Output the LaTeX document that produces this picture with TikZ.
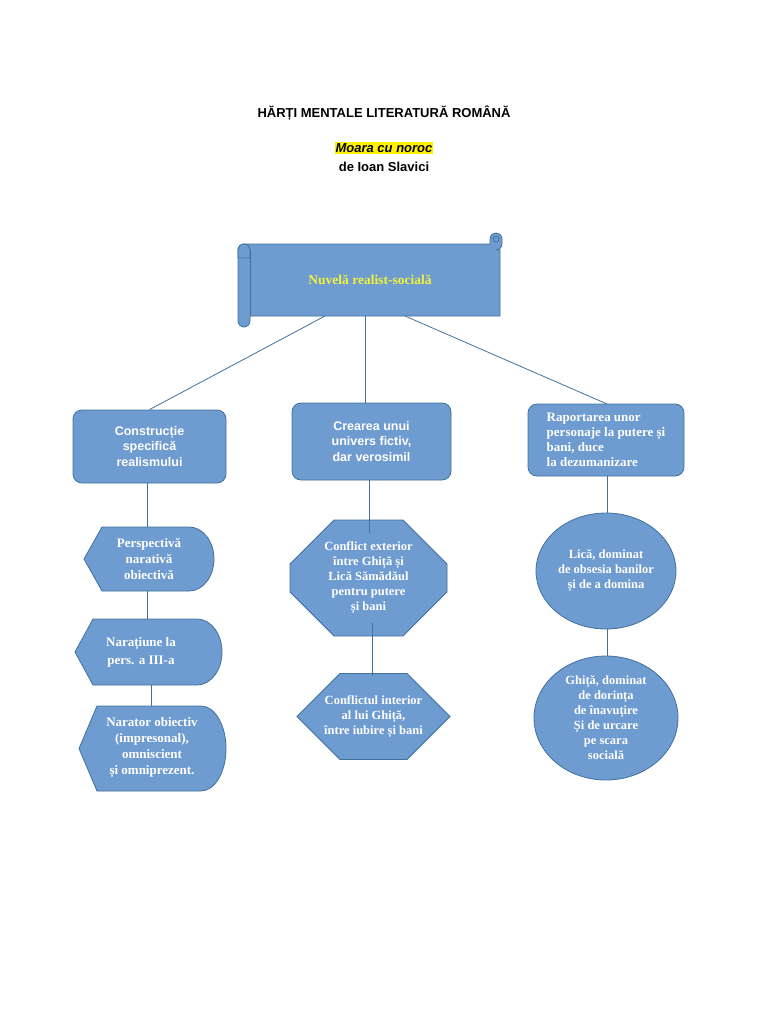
\documentclass[tikz,border=0pt]{standalone}
\usepackage{fontspec}
\setmainfont{Liberation Serif}
\newfontfamily\sansf{Liberation Sans}
\usetikzlibrary{shapes.misc,shapes.geometric}
\definecolor{fillb}{HTML}{6E9BD0}
\definecolor{edgeb}{HTML}{41719C}
\definecolor{ytext}{HTML}{F2F23A}
\begin{document}
\begin{tikzpicture}[x=1pt,y=-1pt,
  box/.style={draw=edgeb,fill=fillb,line width=0.8pt,text=white,font=\bfseries\fontsize{12.5}{15}\selectfont,align=center,inner sep=0pt},
  sbox/.style={box,rounded corners=9pt,font=\sansf\bfseries\fontsize{12.5}{15.5}\selectfont},
  oct/.style={box,chamfered rectangle,chamfered rectangle xsep=22pt,chamfered rectangle ysep=22pt},
  ell/.style={box,ellipse},
  txt/.style={text=white,font=\bfseries\fontsize{12.5}{15}\selectfont,align=center,inner sep=0pt},
  lnk/.style={draw=edgeb,line width=0.8pt},
  shp/.style={draw=edgeb,fill=fillb,line width=0.8pt}]
\useasboundingbox (0,0) rectangle (768,1024);
% titles
\node[font=\sansf\bfseries\fontsize{13}{15}\selectfont] (t1) at (384,113) {HĂRȚI MENTALE LITERATURĂ ROMÂNĂ};
\node[font=\sansf\bfseries\itshape\fontsize{13}{15}\selectfont,fill=yellow,inner sep=1pt] (t2) at (384,148) {Moara cu noroc};
\node[font=\sansf\bfseries\fontsize{13}{15}\selectfont] (t3) at (384,167) {de Ioan Slavici};
% scroll
\path[shp] (244,244) -- (490,244) -- (490,239) arc(180:360:6) -- (502,244) arc(0:90:6) -- (500,250) -- (500,316) -- (250,316) -- (250,321) arc(0:180:6) -- (238,250) arc(180:270:6) -- cycle;
\path[shp] (238,250) arc(180:360:6) -- (250,258) -- (238,258) -- cycle;
\path[shp] (496,239) circle (3);
\draw[edgeb,line width=0.8pt] (250,250) -- (250,316);
\node[inner sep=0pt,minimum width=252pt,minimum height=72pt] (s) at (374,280) {};
\node[font=\bfseries\fontsize{13.5}{16}\selectfont,text=ytext] at (370,280) {Nuvelă realist-socială};
% level 1
\node[sbox,minimum width=153pt,minimum height=73pt] (a) at (149.5,446.5) {Construcție\\specifică\\realismului};
\node[sbox,minimum width=159pt,minimum height=77pt] (b) at (371.5,441.5) {Crearea unui\\univers fictiv,\\dar verosimil};
\node[box,rounded corners=9pt,minimum width=156pt,minimum height=72pt,align=left,font=\bfseries\fontsize{13}{15}\selectfont] (c) at (606,440) {Raportarea unor\\personaje la putere și\\bani, duce\\la dezumanizare};
\draw[lnk] (325,316) -- (a.north);
\draw[lnk] (365,316) -- (365,403);
\draw[lnk] (405,316) -- (607,404);
% left display shapes
\newcommand{\dispshape}[5]{% x1 x2 y1 y2 name
  \path[shp] (#1,{(#3+#4)/2}) -- ({#1+18},#3) -- ({#2-25},#3) arc(-90:90:{25} and {(#4-#3)/2}) -- ({#1+18},#4) -- cycle;
  \node[inner sep=0pt,minimum width={#2-#1},minimum height={#4-#3}] (#5) at ({(#1+#2)/2},{(#3+#4)/2}) {};}
\dispshape{84}{214}{527}{591}{d1}
\dispshape{75}{222}{619}{685}{d2}
\dispshape{79}{226}{706}{791}{d3}
\node[txt,font=\bfseries\fontsize{13}{16}\selectfont] at (149,559) {Perspectivă\\narativă\\obiectivă};
\node[txt,font=\bfseries\fontsize{13}{18}\selectfont] at (141,652) {Narațiune la\\pers. a III-a};
\node[txt,font=\bfseries\fontsize{13}{16}\selectfont] at (152,748) {Narator obiectiv\\ (impresonal),\\omniscient\\și omniprezent.};
\draw[lnk] (147,483) -- (147,527);
\draw[lnk] (147,591) -- (147,619);
\draw[lnk] (151,685) -- (151,706);
% middle octagons
\node[oct,minimum width=157pt,minimum height=90pt] (o1) at (368.5,578) {Conflict exterior\\între Ghiță și\\Lică Sămădăul\\pentru putere\\și bani};
\node[oct,minimum width=153pt,minimum height=81pt] (o2) at (373.5,716.5) {Conflictul interior\\al lui Ghiță,\\între iubire și bani};
\draw[lnk] (369,480) -- (369,533);
\draw[lnk] (372,623) -- (372,676);
% right ellipses
\node[ell,minimum width=140pt,minimum height=116pt] (e1) at (606,571) {Lică, dominat\\de obsesia banilor\\și de a domina};
\node[ell,minimum width=144pt,minimum height=124pt] (e2) at (606,718) {Ghiță, dominat\\de dorința\\de înavuțire\\Și de urcare\\pe scara\\socială};
\draw[lnk] (607,476) -- (607,513);
\draw[lnk] (607,629) -- (607,656);
\end{tikzpicture}
\end{document}
